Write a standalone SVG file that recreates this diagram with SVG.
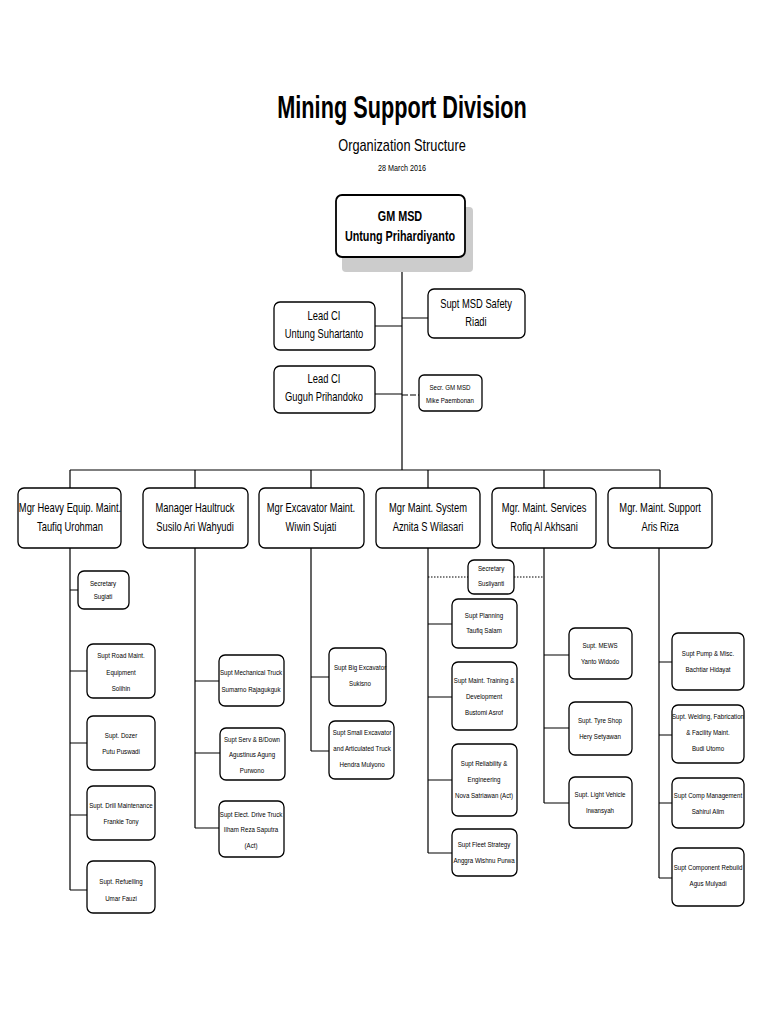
<svg xmlns="http://www.w3.org/2000/svg" width="768" height="1024" viewBox="0 0 768 1024">
<style>
text{font-family:"Liberation Sans",Arial,sans-serif;fill:#000;text-anchor:middle;transform-box:fill-box;transform-origin:center;transform:scaleX(.72)}
.b{fill:#fff;stroke:#000;stroke-width:1.3}
.l{stroke:#000;stroke-width:1.2;fill:none}
.m{font-size:13px}
.s{font-size:8px;transform:scaleX(.77)}
</style>
<rect width="768" height="1024" fill="#fff"/>
<text x="402" y="118" style="font-size:31px;font-weight:bold;transform:scaleX(.7)">Mining Support Division</text>
<text x="402" y="151" style="font-size:17px;transform:scaleX(.75)">Organization Structure</text>
<text x="402" y="171" style="font-size:9px;transform:scaleX(.8)">28 March 2016</text>
<g id="connectors">
<path class="l" d="M402 257V470M375 326H402M402 318H428M375 394H402M70 470H660M70 470V488M195 470V488M311 470V488M428 470V488M544 470V488M660 470V488"/>
<path class="l" d="M402 395H419" stroke-dasharray="6 2"/>
<path class="l" d="M70 548V890M70 590H78M70 671H87M70 743H87M70 815H87M70 890H87"/>
<path class="l" d="M195 548V828M195 681H219M195 753H220M195 828H219"/>
<path class="l" d="M311 548V751M311 677H329M311 751H329"/>
<path class="l" d="M428 548V853M428 624H452M428 697H452M428 780H452M428 853H452"/>
<path class="l" d="M428 577H468M514 577H544" stroke-dasharray="1.5 1.5"/>
<path class="l" d="M544 548V803M544 655H569M544 728H569M544 803H569"/>
<path class="l" d="M659 548V878M659 662H672M659 735H672M659 803H672M659 878H672"/>
</g>
<g id="gm"><rect x="342" y="207" width="131" height="65" rx="4" fill="#ccc"/><rect class="b" x="336" y="195" width="129" height="62" rx="6" style="stroke-width:1.8"/><text class="m" x="400" y="221" style="font-weight:bold;font-size:15px">GM MSD</text><text class="m" x="400" y="241" style="font-weight:bold;font-size:15px">Untung Prihardiyanto</text></g>
<g id="lead1"><rect class="b" x="274" y="302" width="101" height="48" rx="6"/><text class="m" x="324" y="320">Lead CI</text><text class="m" x="324" y="338">Untung Suhartanto</text></g>
<g id="safety"><rect class="b" x="428" y="289" width="97" height="49" rx="6"/><text class="m" x="476" y="308">Supt MSD Safety</text><text class="m" x="476" y="326">Riadi</text></g>
<g id="lead2"><rect class="b" x="274" y="366" width="101" height="47" rx="6"/><text class="m" x="324" y="383">Lead CI</text><text class="m" x="324" y="401">Guguh Prihandoko</text></g>
<g id="secgm"><rect class="b" x="419" y="375" width="63" height="36" rx="5"/><text class="s" x="450" y="390">Secr. GM MSD</text><text class="s" x="450" y="403">Mike Paembonan</text></g>
<g id="m1"><rect class="b" x="18" y="488" width="103" height="60" rx="6"/><text class="m" x="70" y="512">Mgr Heavy Equip. Maint.</text><text class="m" x="70" y="531">Taufiq Urohman</text></g>
<g id="m2"><rect class="b" x="143" y="488" width="105" height="60" rx="6"/><text class="m" x="195" y="512">Manager Haultruck</text><text class="m" x="195" y="531">Susilo Ari Wahyudi</text></g>
<g id="m3"><rect class="b" x="259" y="488" width="105" height="60" rx="6"/><text class="m" x="311" y="512">Mgr Excavator Maint.</text><text class="m" x="311" y="531">Wiwin Sujati</text></g>
<g id="m4"><rect class="b" x="376" y="488" width="104" height="60" rx="6"/><text class="m" x="428" y="512">Mgr Maint. System</text><text class="m" x="428" y="531">Aznita S Wilasari</text></g>
<g id="m5"><rect class="b" x="492" y="488" width="104" height="60" rx="6"/><text class="m" x="544" y="512">Mgr. Maint. Services</text><text class="m" x="544" y="531">Rofiq Al Akhsani</text></g>
<g id="m6"><rect class="b" x="608" y="488" width="104" height="60" rx="6"/><text class="m" x="660" y="512">Mgr. Maint. Support</text><text class="m" x="660" y="531">Aris Riza</text></g>
<g id="sec1"><rect class="b" x="78" y="571" width="51" height="38" rx="6"/><text class="s" x="103" y="586">Secretary</text><text class="s" x="103" y="599">Sugiati</text></g>
<g id="c1a"><rect class="b" x="87" y="644" width="68" height="54" rx="6"/><text class="s" x="121" y="658">Supt Road Maint.</text><text class="s" x="121" y="675">Equipment</text><text class="s" x="121" y="691">Solihin</text></g>
<g id="c1b"><rect class="b" x="87" y="716" width="68" height="54" rx="6"/><text class="s" x="121" y="738">Supt. Dozer</text><text class="s" x="121" y="754">Putu Puswadi</text></g>
<g id="c1c"><rect class="b" x="87" y="786" width="68" height="54" rx="6"/><text class="s" x="121" y="808">Supt. Drill Maintenance</text><text class="s" x="121" y="824">Frankie Tony</text></g>
<g id="c1d"><rect class="b" x="87" y="861" width="68" height="52" rx="6"/><text class="s" x="121" y="884">Supt. Refuelling</text><text class="s" x="121" y="901">Umar Fauzi</text></g>
<g id="c2a"><rect class="b" x="219" y="655" width="65" height="51" rx="6"/><text class="s" x="251" y="675">Supt Mechanical Truck</text><text class="s" x="251" y="692">Sumarno Rajagukguk</text></g>
<g id="c2b"><rect class="b" x="220" y="728" width="65" height="52" rx="6"/><text class="s" x="252" y="742">Supt Serv &amp; B/Down</text><text class="s" x="252" y="757">Agustinus Agung</text><text class="s" x="252" y="773">Purwono</text></g>
<g id="c2c"><rect class="b" x="219" y="801" width="65" height="56" rx="6"/><text class="s" x="251" y="817">Supt Elect. Drive Truck</text><text class="s" x="251" y="832">Ilham Reza Saputra</text><text class="s" x="251" y="848">(Act)</text></g>
<g id="c3a"><rect class="b" x="329" y="648" width="57" height="58" rx="6"/><text class="s" x="360" y="670">Supt Big Excavator</text><text class="s" x="360" y="686">Sukisno</text></g>
<g id="c3b"><rect class="b" x="329" y="721" width="65" height="58" rx="6"/><text class="s" x="362" y="735">Supt Small Excavator</text><text class="s" x="362" y="751">and Articulated Truck</text><text class="s" x="362" y="767">Hendra Mulyono</text></g>
<g id="sec4"><rect class="b" x="468" y="560" width="46" height="34" rx="6"/><text class="s" x="491" y="571">Secretary</text><text class="s" x="491" y="586">Susliyanti</text></g>
<g id="c4a"><rect class="b" x="452" y="599" width="65" height="49" rx="6"/><text class="s" x="484" y="618">Supt Planning</text><text class="s" x="484" y="633">Taufiq Salam</text></g>
<g id="c4b"><rect class="b" x="452" y="662" width="65" height="68" rx="6"/><text class="s" x="484" y="683">Supt Maint. Training &amp;</text><text class="s" x="484" y="699">Development</text><text class="s" x="484" y="715">Bustomi Asrof</text></g>
<g id="c4c"><rect class="b" x="452" y="744" width="65" height="72" rx="6"/><text class="s" x="484" y="766">Supt Reliability &amp;</text><text class="s" x="484" y="782">Engineering</text><text class="s" x="484" y="798">Nova Satriawan (Act)</text></g>
<g id="c4d"><rect class="b" x="452" y="829" width="65" height="47" rx="6"/><text class="s" x="484" y="847">Supt Fleet Strategy</text><text class="s" x="484" y="863">Anggra Wishnu Purwa</text></g>
<g id="c5a"><rect class="b" x="569" y="628" width="63" height="51" rx="6"/><text class="s" x="600" y="648">Supt. MEWS</text><text class="s" x="600" y="664">Yanto Widodo</text></g>
<g id="c5b"><rect class="b" x="569" y="702" width="63" height="53" rx="6"/><text class="s" x="600" y="723">Supt. Tyre Shop</text><text class="s" x="600" y="739">Hery Setyawan</text></g>
<g id="c5c"><rect class="b" x="569" y="777" width="63" height="51" rx="6"/><text class="s" x="600" y="797">Supt. Light Vehicle</text><text class="s" x="600" y="813">Irwansyah</text></g>
<g id="c6a"><rect class="b" x="672" y="633" width="72" height="57" rx="6"/><text class="s" x="708" y="656">Supt Pump &amp; Misc.</text><text class="s" x="708" y="672">Bachtiar Hidayat</text></g>
<g id="c6b"><rect class="b" x="672" y="705" width="72" height="58" rx="6"/><text class="s" x="708" y="719">Supt. Welding, Fabrication</text><text class="s" x="708" y="735">&amp; Facility Maint.</text><text class="s" x="708" y="751">Budi Utomo</text></g>
<g id="c6c"><rect class="b" x="672" y="778" width="72" height="50" rx="6"/><text class="s" x="708" y="798">Supt Comp Management</text><text class="s" x="708" y="814">Sahirul Alim</text></g>
<g id="c6d"><rect class="b" x="672" y="848" width="72" height="58" rx="6"/><text class="s" x="708" y="870">Supt Component Rebuild</text><text class="s" x="708" y="886">Agus Mulyadi</text></g>
</svg>
